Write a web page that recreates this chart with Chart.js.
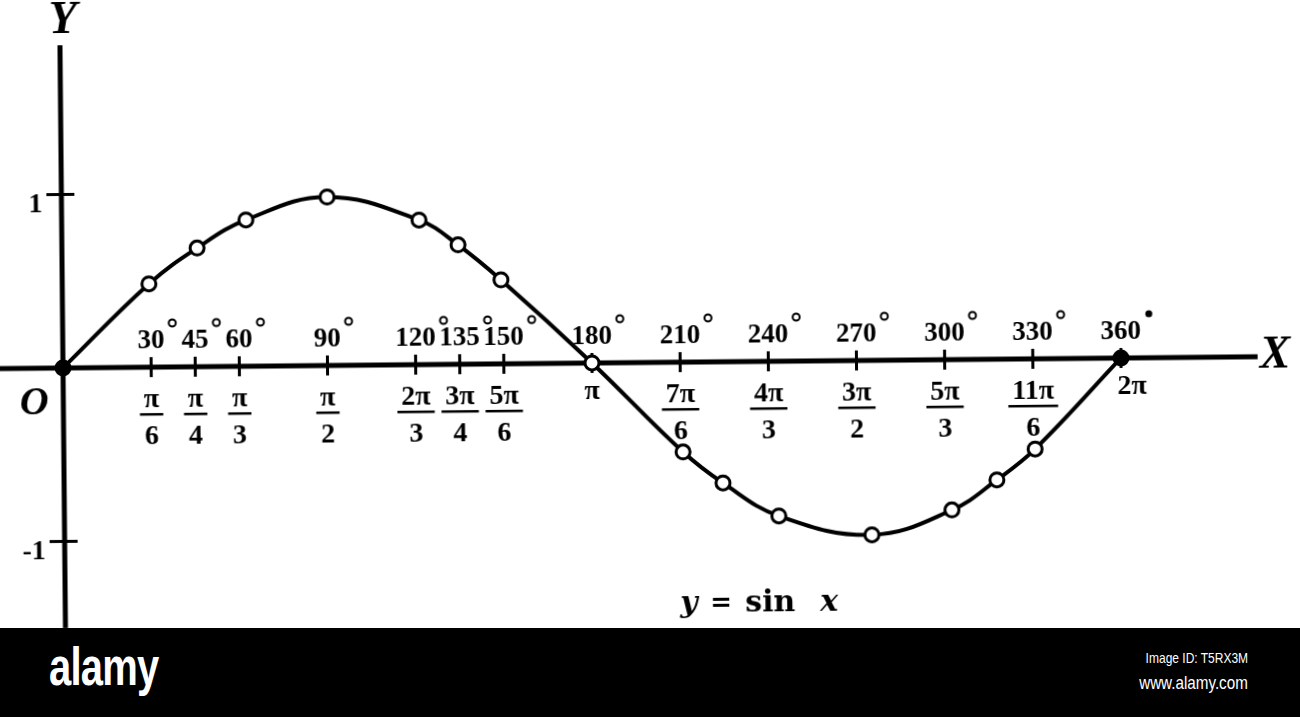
<!DOCTYPE html>
<html>
<head>
<meta charset="utf-8">
<title>y = sin x</title>
<script src="https://cdn.jsdelivr.net/npm/chart.js@4.4.0/dist/chart.umd.min.js"></script>
<style>
    html, body {
        margin: 0;
        padding: 0;
        background: #fff;
        overflow: hidden;
    }

    #wrap {
        position: relative;
        width: 1300px;
        height: 717px;
    }

    /* the scanned drawing is slightly tilted */
    #sineChart {
        position: absolute;
        left: 0;
        top: 0;
        transform: rotate(-0.54deg);
        transform-origin: 63px 368px;
    }

    #band {
        position: absolute;
        left: 0;
        top: 628px;
        width: 1300px;
        height: 89px;
        background: #000;
        color: #fff;
        font-family: "Liberation Sans", Arial, sans-serif;
    }

    #band .logo {
        position: absolute;
        left: 49px;
        top: 11px;
        font-size: 54px;
        font-weight: bold;
        line-height: 54px;
        letter-spacing: -1px;
        transform: scaleX(0.74);
        transform-origin: left top;
    }

    #band .info {
        position: absolute;
        right: 52px;
        text-align: right;
        transform: scaleX(0.8);
        transform-origin: right top;
        white-space: nowrap;
    }

    #band .id {
        top: 22px;
        font-size: 15px;
        line-height: 16px;
    }

    #band .url {
        top: 45px;
        font-size: 19px;
        line-height: 20px;
    }
</style>
</head>
<body>
<div id="wrap">
    <canvas id="sineChart" width="1300" height="628"></canvas>
    <div id="band">
        <div class="logo">alamy</div>
        <div class="info id">Image ID: T5RX3M</div>
        <div class="info url">www.alamy.com</div>
    </div>
</div>

<script>
// points of the curve (degrees, value)
const angles = [0, 29.5, 46, 62.7, 90.4, 121.6, 134.8, 149.3, 180, 210.7, 224.2, 243.1, 274.7, 302, 317.4, 330.5, 360];
const sineValues = [0, 0.48, 0.684, 0.843, 0.971, 0.833, 0.688, 0.484, 0, -0.518, -0.699, -0.892, -1.006, -0.867, -0.696, -0.52, 0];

// ticks on the x axis
const tickAngles = [30, 45, 60, 90, 120, 135, 150, 180, 210, 240, 270, 300, 330, 360];
const degreeLabels = ["30", "45", "60", "90", "120", "135", "150", "180", "210", "240", "270", "300", "330", "360"];
const radianNumerators = ["π", "π", "π", "π", "2π", "3π", "5π", "π", "7π", "4π", "3π", "5π", "11π", "2π"];
const radianDenominators = ["6", "4", "3", "2", "3", "4", "6", "", "6", "3", "2", "3", "6", ""];

// ticks on the y axis
const yTicks = [1, -1];
const yTickLabels = ["1", "-1"];

const serif = "'Liberation Serif', 'Times New Roman', serif";
const wideSerif = "'DejaVu Serif', serif";

const xMin = -21.44;
const xMax = 420.9;
const yMin = -1.499;
const yMax = 2.121;
const xAxisEnd = 406.5;
const yAxisTop = 1.86;

const lastIndex = angles.length - 1;

const axesPlugin = {
    id: "axesPlugin",
    beforeDatasetsDraw: function (chart) {
        const ctx = chart.ctx;
        const xScale = chart.scales.x;
        const yScale = chart.scales.y;
        const originX = xScale.getPixelForValue(0);
        const originY = yScale.getPixelForValue(0);
        const topY = yScale.getPixelForValue(yAxisTop);
        const endX = xScale.getPixelForValue(xAxisEnd);

        ctx.save();
        ctx.strokeStyle = "#000";
        ctx.fillStyle = "#000";

        // axes
        ctx.lineWidth = 5;
        ctx.beginPath();
        ctx.moveTo(originX, topY);
        ctx.lineTo(originX, yScale.bottom);
        ctx.moveTo(xScale.left, originY);
        ctx.lineTo(endX, originY);
        ctx.stroke();

        // y ticks
        ctx.lineWidth = 3;
        ctx.font = "bold 28px " + serif;
        ctx.textAlign = "right";
        ctx.textBaseline = "alphabetic";
        yTicks.forEach(function (value, i) {
            const py = yScale.getPixelForValue(value);
            ctx.beginPath();
            ctx.moveTo(originX - 15, py);
            ctx.lineTo(originX + 13, py);
            ctx.stroke();
            ctx.fillText(yTickLabels[i], originX - 19, py + 18);
        });

        // x ticks, degrees above and radians below
        tickAngles.forEach(function (angle, i) {
            const px = xScale.getPixelForValue(angle);
            const isLast = i === tickAngles.length - 1;

            ctx.lineWidth = 3;
            ctx.beginPath();
            ctx.moveTo(px, originY - 10);
            ctx.lineTo(px, originY + 10);
            ctx.stroke();

            ctx.font = "bold 27px " + serif;
            ctx.textAlign = "center";
            ctx.fillText(degreeLabels[i], px, originY - 19);
            const w = ctx.measureText(degreeLabels[i]).width;
            ctx.lineWidth = 2;
            ctx.beginPath();
            ctx.arc(px + w / 2 + 8, originY - 44, 3.5, 0, Math.PI * 2);
            if (isLast) {
                ctx.fill();
            } else {
                ctx.stroke();
            }

            const numerator = radianNumerators[i];
            const denominator = radianDenominators[i];
            ctx.font = "bold 28px " + serif;
            if (denominator === "") {
                const shift = isLast ? 11 : 0;
                ctx.fillText(numerator, px + shift, originY + 36);
            } else {
                ctx.fillText(numerator, px, originY + 40);
                const barWidth = Math.max(ctx.measureText(numerator).width, ctx.measureText(denominator).width) + 8;
                ctx.fillRect(px - barWidth / 2, originY + 46, barWidth, 2.5);
                ctx.fillText(denominator, px, originY + 77);
            }
        });

        // axis names
        ctx.font = "bold italic 46px " + serif;
        ctx.textAlign = "center";
        ctx.fillText("Y", originX + 3, topY - 12);
        ctx.textAlign = "left";
        ctx.fillText("X", endX + 2, originY + 11);
        ctx.font = "bold italic 40px " + serif;
        ctx.textAlign = "center";
        ctx.fillText("O", originX - 29, originY + 46);

        // formula
        ctx.textAlign = "left";
        ctx.font = "bold italic 30px " + wideSerif;
        ctx.fillText("y", 678, 618);
        ctx.font = "bold 26px " + wideSerif;
        ctx.fillText("=", 708, 617);
        ctx.font = "bold 30px " + wideSerif;
        ctx.fillText("sin", 743, 618);
        ctx.font = "bold italic 30px " + wideSerif;
        ctx.fillText("x", 818, 618);

        ctx.restore();
    }
};

const sineChart = document.getElementById("sineChart");

if (sineChart) {
    new Chart(sineChart, {
        type: "line",
        data: {
            datasets: [{
                label: "y = sin x",
                data: angles.map(function (angle, i) {
                    return { x: angle, y: sineValues[i] };
                }),
                borderColor: "#000",
                borderWidth: 4,
                tension: 0.4,
                pointRadius: 7,
                pointBorderWidth: 3,
                pointBorderColor: "#000",
                pointBackgroundColor: angles.map(function (angle, i) {
                    return (i === 0 || i === lastIndex) ? "#000" : "#fff";
                }),
                clip: false
            }]
        },
        options: {
            responsive: false,
            animation: false,
            devicePixelRatio: 1,
            events: [],
            layout: {
                padding: 0,
                autoPadding: false
            },
            plugins: {
                legend: {
                    display: false
                },
                tooltip: {
                    enabled: false
                }
            },
            scales: {
                x: {
                    type: "linear",
                    min: xMin,
                    max: xMax,
                    display: false
                },
                y: {
                    min: yMin,
                    max: yMax,
                    display: false
                }
            }
        },
        plugins: [axesPlugin]
    });
}
</script>
</body>
</html>
